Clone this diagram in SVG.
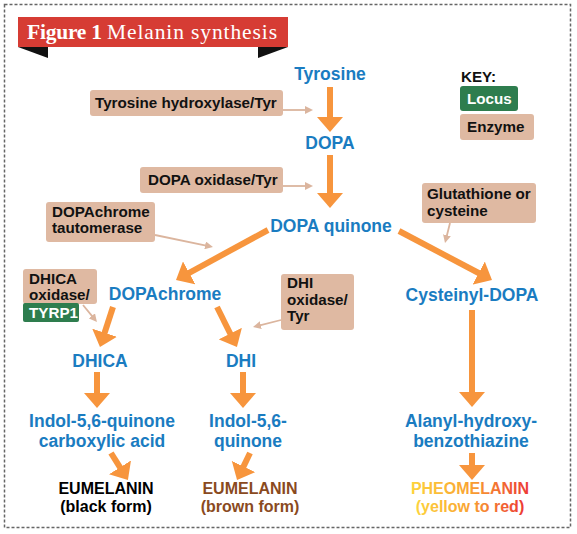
<svg xmlns="http://www.w3.org/2000/svg" width="577" height="534" viewBox="0 0 577 534">
<defs>
<marker id="oh" markerUnits="userSpaceOnUse" markerWidth="15" markerHeight="26" viewBox="0 0 15 26" refX="1" refY="13" orient="auto"><path d="M0,0 L15,13 L0,26 z" fill="#f7953d"/></marker>
<marker id="th" markerUnits="userSpaceOnUse" markerWidth="8" markerHeight="8" viewBox="0 0 8 8" refX="1" refY="4" orient="auto"><path d="M0,0 L8,4 L0,8 z" fill="#dbb59e"/></marker>
<linearGradient id="pheo" x1="0" y1="0" x2="1" y2="0"><stop offset="0" stop-color="#fdd33c"/><stop offset="0.5" stop-color="#f9a232"/><stop offset="1" stop-color="#ec3a33"/></linearGradient>
<style>
.frame{fill:none;stroke:#666;stroke-width:1.5;stroke-dasharray:3 2}
.big{stroke:#f7953d;stroke-width:6;fill:none;marker-end:url(#oh)}
.thin{stroke:#dbb59e;stroke-width:1.8;fill:none;marker-end:url(#th)}
.enz{fill:#dfb9a2}
.loc{fill:#2e7d4e}
.lbl{font-family:"Liberation Sans",Arial,sans-serif;font-weight:bold;font-size:15.2px;fill:#111}
.wl{fill:#fff}
.nd{font-family:"Liberation Sans",Arial,sans-serif;font-weight:bold;font-size:17.5px;fill:#1a7cc1;text-anchor:middle}
.fin{font-size:16px}
</style>
</defs>
<rect class="frame" x="4.5" y="4.5" width="566" height="523"/>
<g id="title">
<polygon points="18,47 48,47 48,58" fill="#111"/>
<polygon points="258,47 288,47 258,58" fill="#111"/>
<rect x="18" y="17" width="270" height="30" fill="#d63c34"/>
<text x="27" y="39" font-family="'Liberation Serif',serif" font-size="21.5" fill="#fff"><tspan font-weight="bold" textLength="75">Figure 1</tspan><tspan x="107" textLength="170">Melanin synthesis</tspan></text>
</g>
<g id="connectors">
<line class="thin" x1="283" y1="110" x2="306" y2="110"/>
<line class="thin" x1="283" y1="186" x2="306" y2="186"/>
<line class="thin" x1="155" y1="235" x2="206.1" y2="245.6"/>
<line class="thin" x1="450" y1="223" x2="446.7" y2="236.2"/>
<line class="thin" x1="83" y1="305" x2="92.5" y2="316.6"/>
<line class="thin" x1="281" y1="320" x2="259.8" y2="325.3"/>
<line class="big" x1="330" y1="87" x2="330" y2="118"/>
<line class="big" x1="330" y1="155" x2="330" y2="194"/>
<line class="big" x1="268" y1="230" x2="188.3" y2="273.3"/>
<line class="big" x1="399" y1="231" x2="479.6" y2="273.5"/>
<line class="big" x1="113" y1="307" x2="104.3" y2="333.7"/>
<line class="big" x1="217" y1="307" x2="230.7" y2="334.5"/>
<line class="big" x1="472" y1="310" x2="472" y2="393"/>
<line class="big" x1="97" y1="372" x2="97" y2="394"/>
<line class="big" x1="243" y1="372" x2="243" y2="394"/>
<line class="big" x1="111" y1="453" x2="120.5" y2="468.2"/>
<line class="big" x1="250" y1="453" x2="243.1" y2="467.4"/>
<line class="big" x1="472" y1="453" x2="472" y2="466"/>
</g>
<g id="key">
<text class="lbl" x="461" y="82" font-size="11">KEY:</text>
<rect class="loc" x="460" y="86" width="58" height="25" rx="3"/>
<text class="lbl wl" x="467" y="104" font-size="15.5">Locus</text>
<rect class="enz" x="460" y="114" width="74" height="26" rx="3"/>
<text class="lbl" x="467" y="132" font-size="15.5">Enzyme</text>
</g>
<g id="enz-tyrhyd"><rect class="enz" x="90" y="90" width="193" height="26" rx="3"/><text class="lbl" x="95" y="108">Tyrosine hydroxylase/Tyr</text></g>
<g id="enz-dopaox"><rect class="enz" x="140" y="167" width="143" height="26" rx="3"/><text class="lbl" x="148" y="185">DOPA oxidase/Tyr</text></g>
<g id="enz-taut"><rect class="enz" x="46" y="202" width="109" height="40" rx="3"/><text class="lbl" x="52" y="217">DOPAchrome</text><text class="lbl" x="52" y="233">tautomerase</text></g>
<g id="enz-glut"><rect class="enz" x="422" y="183" width="114" height="40" rx="3"/><text class="lbl" x="427" y="199" font-size="14.8">Glutathione or</text><text class="lbl" x="427" y="216" font-size="14.8">cysteine</text></g>
<g id="enz-dhica"><rect class="enz" x="23" y="269" width="74" height="35" rx="3"/><text class="lbl" x="29" y="284">DHICA</text><text class="lbl" x="29" y="300">oxidase/</text><rect class="loc" x="23" y="303" width="56" height="19" rx="2"/><text class="lbl wl" x="29" y="318">TYRP1</text></g>
<g id="enz-dhi"><rect class="enz" x="281" y="274" width="73" height="56" rx="3"/><text class="lbl" x="287" y="288">DHI</text><text class="lbl" x="287" y="305">oxidase/</text><text class="lbl" x="287" y="321">Tyr</text></g>
<g id="tyrosine"><text class="nd" x="330" y="80">Tyrosine</text></g>
<g id="dopa"><text class="nd" x="330" y="149">DOPA</text></g>
<g id="dopaquinone"><text class="nd" x="331" y="232">DOPA quinone</text></g>
<g id="dopachrome"><text class="nd" x="165" y="300">DOPAchrome</text></g>
<g id="cysteinyldopa"><text class="nd" x="472" y="301">Cysteinyl-DOPA</text></g>
<g id="dhica"><text class="nd" x="100" y="367">DHICA</text></g>
<g id="dhi"><text class="nd" x="241" y="367">DHI</text></g>
<g id="indolcarb"><text class="nd" x="102" y="427">Indol-5,6-quinone</text><text class="nd" x="102" y="447">carboxylic acid</text></g>
<g id="indolq"><text class="nd" x="248" y="427">Indol-5,6-</text><text class="nd" x="248" y="447">quinone</text></g>
<g id="alanyl"><text class="nd" x="471" y="427">Alanyl-hydroxy-</text><text class="nd" x="471" y="447">benzothiazine</text></g>
<g id="eu-black"><text class="nd fin" x="106" y="494" style="fill:#000">EUMELANIN</text><text class="nd fin" x="106" y="512" style="fill:#000">(black form)</text></g>
<g id="eu-brown"><text class="nd fin" x="250" y="494" style="fill:#8a4a1e">EUMELANIN</text><text class="nd fin" x="250" y="512" style="fill:#8a4a1e">(brown form)</text></g>
<g id="pheo"><text class="nd fin" x="470" y="494" style="fill:url(#pheo)">PHEOMELANIN</text><text class="nd fin" x="470" y="512" style="fill:url(#pheo)">(yellow to red)</text></g>
</svg>
